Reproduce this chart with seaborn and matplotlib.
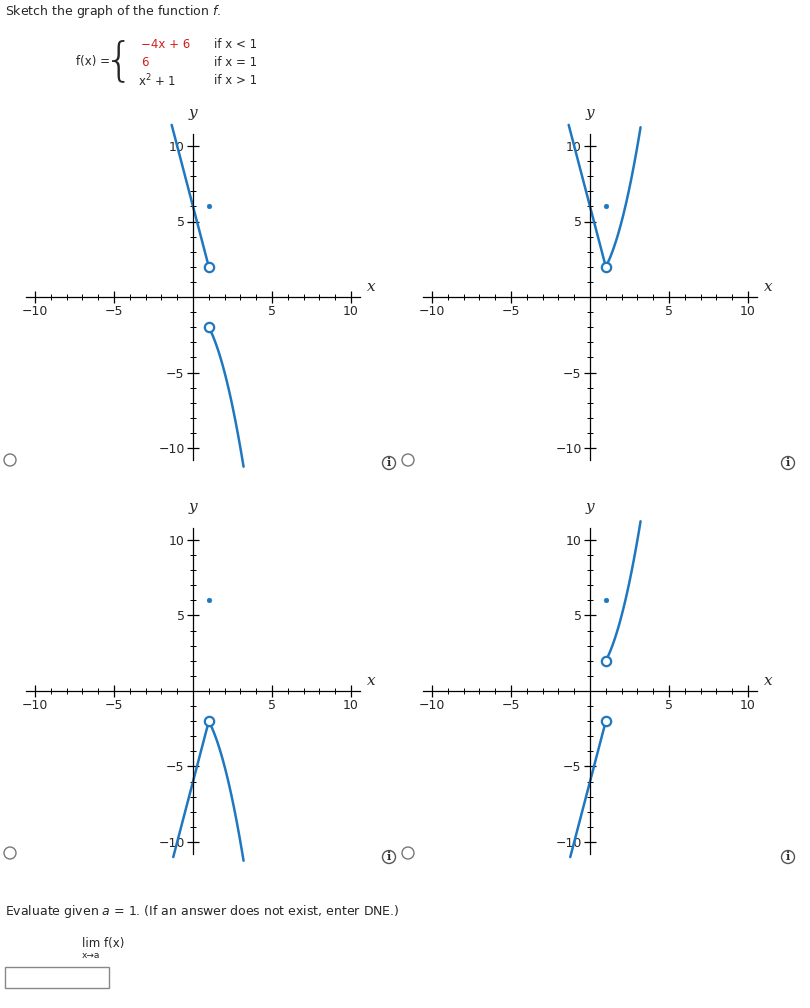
import matplotlib
matplotlib.use("Agg")
import matplotlib.pyplot as plt
import numpy as np
import seaborn as sns

sns.set_style("white")
plt.rcParams["font.family"] = ["DejaVu Sans"]

BLUE = "#1f77c0"
W, H = 810, 1008

# pieces per panel
line_down = np.array([-1.35, 1.0])          # -4x + 6
line_up = np.array([-1.25, 1.0])            # 4x - 6
para_up = np.linspace(1.0, 3.2, 40)         # x^2 + 1
para_down = np.linspace(1.0, 3.2, 40)       # -(x^2 + 1)

panels = [
    (193, 297, [(line_down, -4 * line_down + 6), (para_down, -(para_down ** 2 + 1))],
     [(1, 2), (1, -2)]),
    (590, 297, [(line_down, -4 * line_down + 6), (para_up, para_up ** 2 + 1)],
     [(1, 2)]),
    (193, 691, [(line_up, 4 * line_up - 6), (para_down, -(para_down ** 2 + 1))],
     [(1, -2)]),
    (590, 691, [(line_up, 4 * line_up - 6), (para_up, para_up ** 2 + 1)],
     [(1, -2), (1, 2)]),
]
filled_x, filled_y = [1], [6]
tick_labels = [-10, -5, 5, 10]

XPX, YPX = 15.8, 15.1
XLIM, YLIM = (-11.2, 11.2), (-11.3, 11.6)

fig = plt.figure(figsize=(W / 100, H / 100), dpi=100)


def px_axes(x0, y0, x1, y1):
    return fig.add_axes([x0 / W, 1 - y1 / H, (x1 - x0) / W, (y1 - y0) / H])


def fmt(t):
    return f"\u2212{abs(t)}" if t < 0 else str(t)


for ox, oy, pieces, opens in panels:
    ax = px_axes(ox + XLIM[0] * XPX, oy - YLIM[1] * YPX,
                 ox + XLIM[1] * XPX, oy - YLIM[0] * YPX)
    ax.patch.set_alpha(0)
    for xs, ys in pieces:
        sns.lineplot(x=xs, y=ys, ax=ax, color=BLUE, lw=1.8, sort=False)
    sns.scatterplot(x=filled_x, y=filled_y, ax=ax, color=BLUE, s=12, edgecolor=BLUE, zorder=5)
    ox_, oy_ = zip(*opens)
    ax.scatter(ox_, oy_, s=45, facecolor="white", edgecolor=BLUE, linewidth=1.6, zorder=6)
    ax.set_xlim(*XLIM)
    ax.set_ylim(*YLIM)
    for s in ["top", "right"]:
        ax.spines[s].set_visible(False)
    ax.spines["left"].set_position("zero")
    ax.spines["bottom"].set_position("zero")
    for s in ["left", "bottom"]:
        ax.spines[s].set_color("black")
        ax.spines[s].set_linewidth(0.9)
    ax.spines["bottom"].set_bounds(-10.6, 10.6)
    ax.spines["left"].set_bounds(-10.8, 10.8)
    ax.set_xticks(tick_labels)
    ax.set_yticks(tick_labels)
    ax.set_xticks(range(-10, 11), minor=True)
    ax.set_yticks(range(-10, 11), minor=True)
    ax.set_xticklabels([fmt(t) for t in tick_labels])
    ax.set_yticklabels([fmt(t) for t in tick_labels])
    ax.tick_params(which="both", bottom=True, left=True, color="black")
    ax.tick_params(which="major", direction="inout", length=8, width=0.9, labelsize=9, pad=2)
    ax.tick_params(which="minor", direction="inout", length=4, width=0.7)
    ax.text(11.0, 0.2, "x", fontsize=11, style="italic", family="DejaVu Serif", va="bottom")
    ax.text(0, 11.7, "y", fontsize=11, style="italic", family="DejaVu Serif", ha="center", va="bottom")

# page text
ax0 = fig.add_axes([0, 0, 1, 1])
ax0.set_xlim(0, W)
ax0.set_ylim(H, 0)
ax0.axis("off")
ax0.text(5, 11, "Sketch the graph of the function $f$.", fontsize=9, va="center")
ax0.text(76, 62, "f(x) =", fontsize=8.5, va="center")
ax0.text(134, 61, "{", fontsize=34, va="center", ha="right", fontweight="light")
ax0.text(141, 44, "\u22124x + 6", fontsize=8.5, va="center", color="#d62020")
ax0.text(141, 62, "6", fontsize=8.5, va="center", color="#d62020")
ax0.text(138, 81, "x$^2$ + 1", fontsize=8.5, va="center")
ax0.text(214, 44, "if x < 1", fontsize=8.5, va="center")
ax0.text(214, 62, "if x = 1", fontsize=8.5, va="center")
ax0.text(214, 81, "if x > 1", fontsize=8.5, va="center")

for cx, cy in [(10, 460), (408, 460), (10, 853), (408, 853)]:
    ax0.add_patch(plt.Circle((cx, cy), 6, fill=False, ec="#777777", lw=1))
for cx, cy in [(389, 463), (788, 463), (389, 857), (788, 857)]:
    ax0.add_patch(plt.Circle((cx, cy), 6.5, fill=False, ec="#555555", lw=1))
    ax0.text(cx, cy, "i", ha="center", va="center", fontsize=8, family="DejaVu Serif", fontweight="bold")

ax0.text(5, 912, "Evaluate given $a$ = 1. (If an answer does not exist, enter DNE.)", fontsize=9, va="center")
ax0.text(82, 943, "lim f(x)", fontsize=8.5, va="center")
ax0.text(82, 956, "x\u2192a", fontsize=6.5, va="center")
ax0.add_patch(plt.Rectangle((5, 967), 104, 21, fill=False, ec="#888888", lw=1))

fig.savefig("out.png", dpi=100)
